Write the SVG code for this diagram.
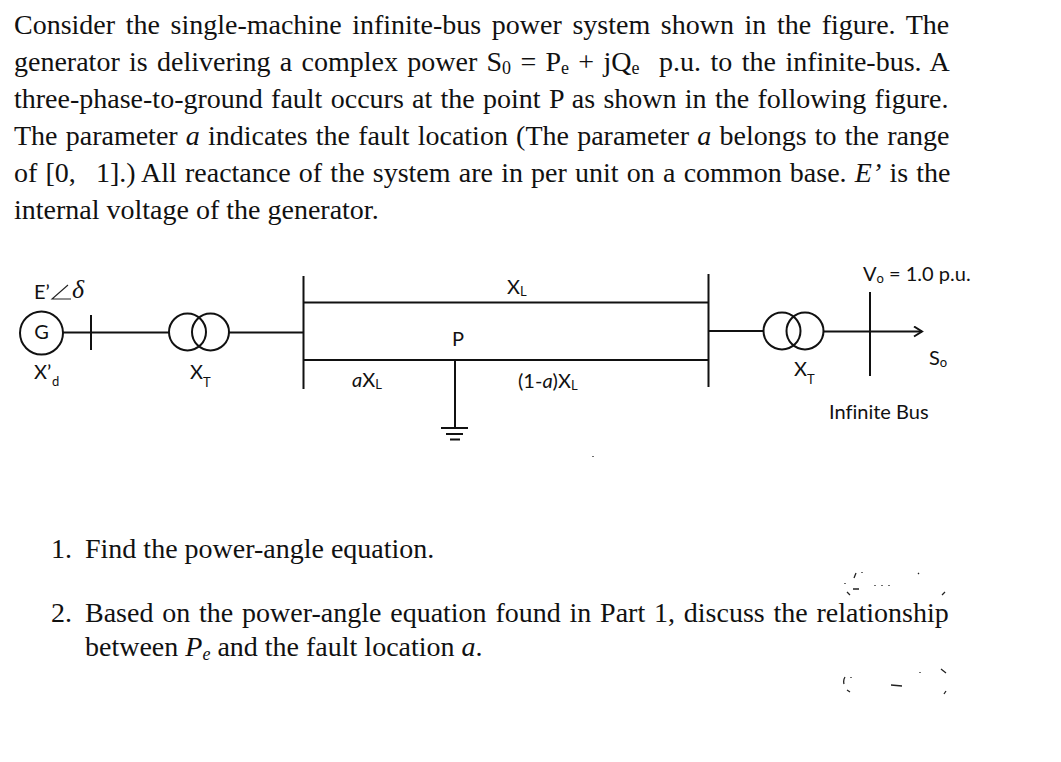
<svg xmlns="http://www.w3.org/2000/svg" width="1061" height="762" viewBox="0 0 1061 762">
<style>
.t{font-family:"Liberation Serif",serif;font-size:28px;fill:#111}
.l{font-family:Lato,"Liberation Sans",sans-serif;font-size:20px;fill:#111;font-variant-ligatures:none}
.s{font-size:13px}
.i{font-style:italic}
.w{fill:none;stroke:#111;stroke-width:2}
.sp{fill:none;stroke:#222;stroke-width:1.3}
</style>
<defs><marker id="arr" markerWidth="12" markerHeight="12" refX="10" refY="6" orient="auto" markerUnits="userSpaceOnUse"><path d="M2 1L10 6L2 11" fill="none" stroke="#111" stroke-width="2"/></marker></defs>
<rect width="1061" height="762" fill="#fff"/>
<g id="statement">
<text class="t" x="14" y="34" word-spacing="3.6">Consider the single-machine infinite-bus power system shown in the figure. The</text>
<text class="t" x="14" y="71" word-spacing="2.3">generator is delivering a complex power S<tspan font-size="18" dy="3">0</tspan><tspan dy="-3"> = P</tspan><tspan font-size="18" dy="3">e</tspan><tspan dy="-3"> + jQ</tspan><tspan font-size="18" dy="3">e</tspan><tspan x="659" dy="-3" word-spacing="2.5">p.u. to the infinite-bus. A</tspan></text>
<text class="t" x="14" y="108" word-spacing="1.3">three-phase-to-ground fault occurs at the point P as shown in the following figure.</text>
<text class="t" x="14" y="145" word-spacing="1.2">The parameter <tspan class="i">a</tspan> indicates the fault location (The parameter <tspan class="i">a</tspan> belongs to the range</text>
<text class="t" x="14" y="182" word-spacing="1.2">of [0,<tspan x="96">1].)</tspan><tspan x="141">All reactance of the system are in per unit on a common base. </tspan><tspan class="i">E’</tspan> is the</text>
<text class="t" x="14" y="219">internal voltage of the generator.</text>
</g>
<g id="connectors">
<path class="w" d="M63 332.500H169M229 332.500H303.500M91 315V350M303.500 276V389M303.500 302.500H708.500M303.500 360H708.500M708.500 274V387M455 360V428M441 428H468M446 434H463M450 439.500H460M709 331H763M823 331.500H870M870 292V376"/>
<path class="w" d="M870 331.500H922" marker-end="url(#arr)"/>
</g>
<g id="generator"><circle class="w" cx="41.500" cy="333" r="21.500"/><text class="l" x="41.500" y="339" text-anchor="middle">G</text></g>
<g id="transformer-left"><circle class="w" cx="187.500" cy="332" r="18.500"/><circle class="w" cx="210.500" cy="332" r="18.500"/></g>
<g id="transformer-right"><circle class="w" cx="782" cy="331" r="18.500"/><circle class="w" cx="805" cy="331" r="18.500"/></g>
<g id="labels">
<text class="l" x="34" y="299">E’</text>
<path class="sp" style="stroke-width:1.1" d="M68 285L52 299H71"/>
<text x="72" y="298" font-family="Liberation Serif,serif" font-size="26" font-style="italic" fill="#111">δ</text>
<text class="l" x="34" y="379">X’</text><text class="l s" x="52" y="386">d</text>
<text class="l" x="190" y="379">X</text><text class="l s" x="203" y="387">T</text>
<text class="l" x="352" y="387"><tspan class="i">a</tspan>X<tspan font-size="13" dy="2">L</tspan></text>
<text class="l" x="452" y="346">P</text>
<text class="l" x="507" y="294">X<tspan font-size="13" dy="2">L</tspan></text>
<text class="l" x="518" y="388">(1-<tspan class="i">a</tspan>)X<tspan font-size="13" dy="2">L</tspan></text>
<text class="l" x="794" y="376">X</text><text class="l s" x="807" y="384">T</text>
<text class="l" x="863" y="281">V<tspan font-size="13" dy="2">o</tspan><tspan dy="-2"> = 1.0 p.u.</tspan></text>
<text class="l" x="929" y="365">S<tspan font-size="13" dy="2">o</tspan></text>
<text class="l" x="829" y="419">Infinite Bus</text>
</g>
<g id="questions">
<text class="t" x="51" y="558">1.<tspan x="85">Find the power-angle equation.</tspan></text>
<text class="t" x="51" y="622" word-spacing="1.8">2.<tspan x="85">Based on the power-angle equation found in Part 1, discuss the relationship</tspan></text>
<text class="t" x="85" y="656">between <tspan class="i">P</tspan><tspan class="i" font-size="18" dy="4">e</tspan><tspan dy="-4"> and the fault location </tspan><tspan class="i">a</tspan>.</text>
</g>
<g id="specks">
<path class="sp" d="M856 573L854 578M862 572V573M845 583V584M847 592L850 595M853 589H859M875 585V586M882 585V586M889 585V586M918 573L919 574M945 592L942 595M845 677Q843 680 844 684M851 677V678M847 690L850 692M891 685L902 686M920 672V673M941 669L946 673M946 691L944 694M593 456V457"/>
</g>
</svg>
